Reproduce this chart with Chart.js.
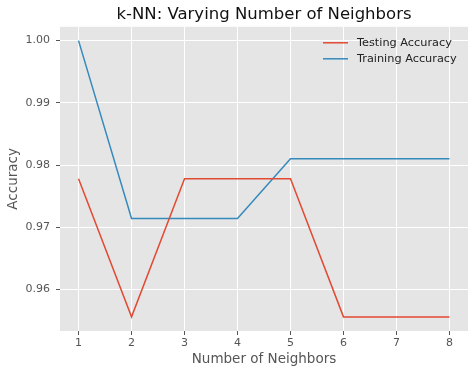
<!DOCTYPE html>
<html><head><meta charset="utf-8">
<script src="https://cdn.jsdelivr.net/npm/chart.js@4.4.0/dist/chart.umd.min.js"></script>
<style>html,body{margin:0;padding:0;background:#fff}#wrap{width:474px;height:374px}</style>
</head><body><div id="wrap"><canvas id="c" width="474" height="374"></canvas></div>
<script>
const neighbors = [1, 2, 3, 4, 5, 6, 7, 8];
const testingAccuracy = [0.9778, 0.9556, 0.9778, 0.9778, 0.9778, 0.9556, 0.9556, 0.9556];
const trainingAccuracy = [1.0, 0.9714, 0.9714, 0.9714, 0.981, 0.981, 0.981, 0.981];
const xTicks = [1, 2, 3, 4, 5, 6, 7, 8];
const yTicks = [0.96, 0.97, 0.98, 0.99, 1.00];

const FONT = "'DejaVu Sans', sans-serif";

const bgPlugin = {
  id: 'bg',
  beforeDraw(chart) {
    const {ctx, chartArea: a} = chart;
    ctx.save();
    ctx.fillStyle = '#E5E5E5';
    ctx.fillRect(a.left, a.top, a.right - a.left, a.bottom - a.top);
    ctx.restore();
  }
};

const legendPlugin = {
  id: 'innerLegend',
  afterDatasetsDraw(chart) {
    const {ctx, chartArea: a} = chart;
    ctx.save();
    ctx.font = '11.3px ' + FONT;
    ctx.textBaseline = 'middle';
    ctx.textAlign = 'left';
    chart.data.datasets.forEach((ds, i) => {
      const y = a.top + 16 + i * 16;
      const x0 = a.right - 145;
      ctx.strokeStyle = ds.borderColor;
      ctx.lineWidth = 1.5;
      ctx.beginPath();
      ctx.moveTo(x0, y);
      ctx.lineTo(x0 + 25, y);
      ctx.stroke();
      ctx.fillStyle = '#222';
      ctx.fillText(ds.label, x0 + 34, y);
    });
    ctx.restore();
  }
};

new Chart(document.getElementById('c'), {
  type: 'line',
  data: {
    datasets: [
      {label: 'Testing Accuracy', data: neighbors.map((k, i) => ({x: k, y: testingAccuracy[i]})),
       borderColor: '#E24A33', backgroundColor: '#E24A33', borderWidth: 1.5, pointRadius: 0, tension: 0},
      {label: 'Training Accuracy', data: neighbors.map((k, i) => ({x: k, y: trainingAccuracy[i]})),
       borderColor: '#348ABD', backgroundColor: '#348ABD', borderWidth: 1.5, pointRadius: 0, tension: 0}
    ]
  },
  options: {
    responsive: false,
    animation: false,
    layout: {padding: {left: 0, right: 6, top: 0, bottom: 0}},
    plugins: {
      legend: {display: false},
      tooltip: {enabled: false},
      title: {display: true, fullSize: false, text: 'k-NN: Varying Number of Neighbors',
        color: '#111', font: {family: FONT, size: 16.5, weight: 'normal'}, padding: {top: 5, bottom: 2}}
    },
    scales: {
      x: {
        type: 'linear', min: 0.65, max: 8.35,
        afterBuildTicks(s) { s.ticks = xTicks.map(v => ({value: v})); },
        afterFit(s) { s.height = 43; },
        grid: {color: '#fff', lineWidth: 1, tickColor: '#555', tickLength: 4, drawTicks: true},
        border: {display: false},
        ticks: {color: '#555', font: {family: FONT, size: 11}, padding: 2, callback: v => String(v)},
        title: {display: true, text: 'Number of Neighbors', color: '#555',
          font: {family: FONT, size: 13.5}, padding: {top: 0, bottom: 6}}
      },
      y: {
        type: 'linear', min: 0.95333, max: 1.00222,
        afterBuildTicks(s) { s.ticks = yTicks.map(v => ({value: v})); },
        afterFit(s) { s.width = 60; },
        grid: {color: '#fff', lineWidth: 1, tickColor: '#555', tickLength: 4, drawTicks: true},
        border: {display: false},
        ticks: {color: '#555', font: {family: FONT, size: 11}, padding: 6, callback: v => v.toFixed(2)},
        title: {display: true, text: 'Accuracy', color: '#555',
          font: {family: FONT, size: 13.5}, padding: {top: 5, bottom: 0}}
      }
    }
  },
  plugins: [bgPlugin, legendPlugin]
});
</script></body></html>
